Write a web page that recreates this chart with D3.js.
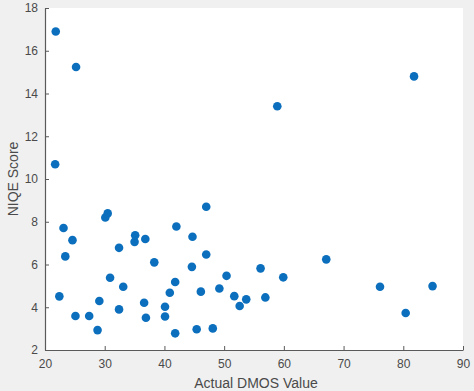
<!DOCTYPE html>
<html><head><meta charset="utf-8">
<script src="https://cdn.jsdelivr.net/npm/d3@7"></script>
<style>
html,body{margin:0;padding:0;background:#f0f0f0;}
svg{display:block;font-family:Arial,"Liberation Sans",Helvetica,sans-serif;}
</style></head>
<body>
<svg id="chart" width="474" height="391"></svg>
<script>
const dmos = [21.8,25.2,21.7,23.1,24.6,23.4,22.4,25.1,27.4,28.8,29.1,30.1,30.5,30.9,32.4,32.4,33.1,35.0,35.1,36.8,36.6,36.9,38.3,
  47.0,42.0,44.7,47.0,44.6,50.4,56.1,59.9,41.8,40.9,46.1,49.2,51.7,53.7,52.6,56.9,40.1,40.1,41.8,45.4,48.1,
  58.9,81.8,67.1,76.1,80.4,84.9];
const niqe = [16.9,15.24,10.69,7.71,7.14,6.38,4.51,3.59,3.59,2.93,4.29,8.2,8.39,5.38,6.78,3.9,4.96,7.06,7.37,7.19,4.21,3.51,6.1,
  8.70,7.78,7.3,6.47,5.89,5.47,5.82,5.40,5.18,4.68,4.73,4.88,4.52,4.37,4.06,4.46,4.02,3.57,2.78,2.97,3.01,
  13.4,14.8,6.24,4.96,3.73,4.99];
const xTicks = [20,30,40,50,60,70,80,90];
const yTicks = [2,4,6,8,10,12,14,16,18];
const xLabel = "Actual DMOS Value";
const yLabel = "NIQE Score";

const svg = d3.select("#chart");
const L = 45, R = 463, T = 8, B = 350;
const x = d3.scaleLinear().domain([20,90]).range([L,R]);
const y = d3.scaleLinear().domain([2,18]).range([B,T]);

svg.append("rect").attr("x",0).attr("y",0).attr("width",474).attr("height",391).attr("fill","#f0f0f0");
svg.append("rect").attr("x",L).attr("y",T).attr("width",R-L).attr("height",B-T).attr("fill","#ffffff");

const axisColor = "#5a5a5a", textColor = "#4a4a4a";
const gx = svg.append("g").attr("transform",`translate(0,${B})`)
  .call(d3.axisBottom(x).tickValues(xTicks).tickSizeInner(-4).tickSizeOuter(0).tickPadding(9));
const gy = svg.append("g").attr("transform",`translate(${L},0)`)
  .call(d3.axisLeft(y).tickValues(yTicks).tickSizeInner(-4).tickSizeOuter(0).tickPadding(7));
[gx,gy].forEach(g=>{
  g.select(".domain").attr("stroke",axisColor).attr("stroke-width",1.2);
  g.selectAll(".tick line").attr("stroke",axisColor);
  g.selectAll(".tick text").attr("fill",textColor).attr("font-size",12).attr("font-family","Arial, 'Liberation Sans', sans-serif");
});

svg.append("text").attr("x",(L+R)/2+2).attr("y",388).attr("text-anchor","middle")
  .attr("font-size",14).attr("fill",textColor).text(xLabel);
svg.append("text").attr("transform",`translate(18,${(T+B)/2}) rotate(-90)`).attr("text-anchor","middle")
  .attr("font-size",14).attr("fill",textColor).text(yLabel);

svg.append("g").selectAll("circle").data(dmos.map((d,i)=>[d,niqe[i]])).join("circle")
  .attr("cx",d=>x(d[0])).attr("cy",d=>y(d[1])).attr("r",4.3).attr("fill","#0b6fbd");
</script>
</body></html>
